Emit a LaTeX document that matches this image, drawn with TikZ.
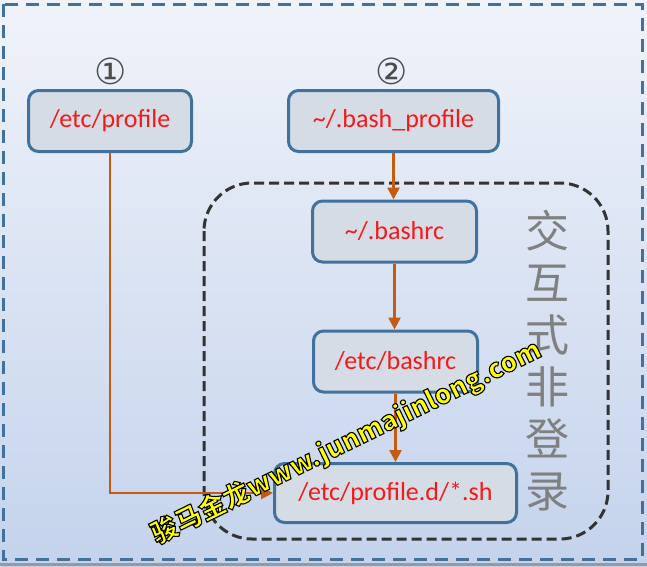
\documentclass[tikz,border=0pt]{standalone}
\usepackage{fontspec}
\setmainfont{Carlito}
\newfontfamily\cjk{Noto Sans CJK SC}
\newfontfamily\symfont{DejaVu Sans}
\usetikzlibrary{arrows.meta}
\definecolor{boxblue}{HTML}{41719C}
\definecolor{boxfill}{HTML}{D6DCE5}
\definecolor{arrorange}{HTML}{C55A11}
\definecolor{txtred}{RGB}{245,25,25}
\definecolor{bgtop}{HTML}{F0F3FA}
\definecolor{bgbot}{HTML}{C4D3EC}
\definecolor{regiongray}{HTML}{333333}
\definecolor{vertgray}{HTML}{808080}
\definecolor{wmyellow}{HTML}{FFFF00}
\newcommand\outlinedtext[1]{\special{pdf:literal direct 0 0 0 RG 1.1 w 2 Tr}#1\special{pdf:literal direct 0 Tr}}
\tikzset{
  filebox/.style={draw=boxblue, fill=boxfill, line width=3pt, rounded corners=10pt,
    text=txtred, font=\fontsize{26}{30}\selectfont, minimum height=61pt, inner sep=0pt},
  flowarrow/.style={draw=arrorange, line width=2.5pt, -{Triangle[length=12pt,width=12pt]}},
  region/.style={draw=regiongray, line width=3pt, dash pattern=on 10pt off 5pt, rounded corners=48pt},
  outerframe/.style={draw=boxblue, line width=3pt, dash pattern=on 13pt off 8pt},
  circnum/.style={font=\symfont\fontsize{36}{36}\selectfont, text=black!70, inner sep=0pt},
}
\begin{document}
\begin{tikzpicture}[x=1pt,y=-1pt]
\useasboundingbox (0,0) rectangle (647,566);
\shade[top color=bgtop, bottom color=bgbot] (0,0) rectangle (647,566);
\fill[gray!80] (0,563) rectangle (647,566);
\draw[outerframe] (3,4) rectangle (642,559);
\draw[region] (204,183) rectangle (608,539);

\node[circnum] (n1) at (111,71) {①};
\node[circnum] (n2) at (392,71) {②};

\node[filebox, minimum width=163pt] (p1) at (110,121) {/etc/profile};
\node[filebox, minimum width=210pt] (p2) at (393.5,121) {\textasciitilde/.bash\_profile};
\node[filebox, minimum width=164pt] (b1) at (394.5,231.5) {\textasciitilde/.bashrc};
\node[filebox, minimum width=164pt] (b2) at (395.5,361.5) {/etc/bashrc};
\node[filebox, minimum width=242pt, minimum height=59pt] (b3) at (395.5,493) {/etc/profile.d/*.sh};

\draw[flowarrow] (p2.south) -- (p2.south |- b1.north);
\draw[flowarrow] (b1.south) -- (b1.south |- b2.north);
\draw[flowarrow] (b2.south) -- (b2.south |- b3.north);
\draw[flowarrow] (p1.south) |- (b3.west);

\node[text=vertgray, align=center, font=\cjk\fontsize{44}{52}\selectfont, inner sep=0pt] (vt) at (547,361)
  {交\\互\\式\\非\\登\\录};

\node[anchor=base, rotate=26, text=wmyellow, font=\cjk\bfseries\fontsize{26.5}{30}\selectfont, inner sep=0pt] (wm) at (350,450)
  {\outlinedtext{骏马金龙www.junmajinlong.com}};
\end{tikzpicture}
\end{document}
